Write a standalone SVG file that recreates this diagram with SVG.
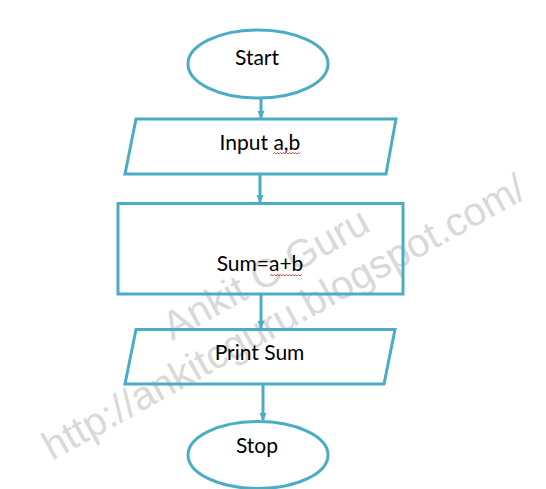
<svg xmlns="http://www.w3.org/2000/svg" width="546" height="489" viewBox="0 0 546 489">
<style>
.shape{fill:none;stroke:#4BACC6;stroke-width:3}
.conn{fill:none;stroke:#4BACC6;stroke-width:3}
.lbl{font-family:Lato,"Liberation Sans",sans-serif;font-size:21px;fill:#000;text-anchor:middle}
.wm{font-family:"Liberation Sans",Arial,sans-serif;font-size:40px;fill:#d9d9d9}
.sq{fill:none;stroke:#e02020;stroke-width:0.8}
</style>
<defs>
<marker id="ah" markerWidth="8" markerHeight="8" refX="7" refY="4" orient="auto" markerUnits="userSpaceOnUse">
<path d="M0,0.5 L8,4 L0,7.5 Z" fill="#4BACC6"/>
</marker>
</defs>
<rect width="546" height="489" fill="#fff"/>
<g id="watermark">
<text class="wm" transform="translate(172,341) rotate(-29)">Ankit C Guru</text>
<text class="wm" transform="translate(52,461) rotate(-29)">http://ankitcguru.blogspot.com/</text>
</g>
<g id="connectors">
<line class="conn" x1="261" y1="98" x2="261" y2="118" marker-end="url(#ah)"/>
<line class="conn" x1="260" y1="174" x2="260" y2="202" marker-end="url(#ah)"/>
<line class="conn" x1="261" y1="294" x2="261" y2="328" marker-end="url(#ah)"/>
<line class="conn" x1="263" y1="384" x2="263" y2="420" marker-end="url(#ah)"/>
</g>
<g id="start">
<ellipse class="shape" cx="258" cy="64" rx="70" ry="34"/>
<text class="lbl" x="257" y="65">Start</text>
</g>
<g id="input">
<polygon class="shape" points="136,119 396,119 386,174 125,174"/>
<text class="lbl" x="260" y="150">Input a,b</text>
<path class="sq" d="M273,154 l1.5,-1.5 l1.5,1.5 l1.5,-1.5 l1.5,1.5 l1.5,-1.5 l1.5,1.5 l1.5,-1.5 l1.5,1.5 l1.5,-1.5 l1.5,1.5 l1.5,-1.5 l1.5,1.5 l1.5,-1.5 l1.5,1.5 l1.5,-1.5 l1.5,1.5 l1.5,-1.5 l1.5,1.5"/>
</g>
<g id="process">
<rect class="shape" x="118" y="203.5" width="285" height="90.5"/>
<text class="lbl" x="260" y="271">Sum=a+b</text>
<path class="sq" d="M270,276 l1.5,-1.5 l1.5,1.5 l1.5,-1.5 l1.5,1.5 l1.5,-1.5 l1.5,1.5 l1.5,-1.5 l1.5,1.5 l1.5,-1.5 l1.5,1.5 l1.5,-1.5 l1.5,1.5 l1.5,-1.5 l1.5,1.5 l1.5,-1.5 l1.5,1.5 l1.5,-1.5 l1.5,1.5 l1.5,-1.5 l1.5,1.5 l1.5,-1.5"/>
</g>
<g id="print">
<polygon class="shape" points="136,329.5 395,329.5 384,384 125,384"/>
<text class="lbl" x="259.5" y="360">Print Sum</text>
</g>
<g id="stop">
<ellipse class="shape" cx="258" cy="455" rx="70" ry="33.5"/>
<text class="lbl" x="257" y="453">Stop</text>
</g>
</svg>
